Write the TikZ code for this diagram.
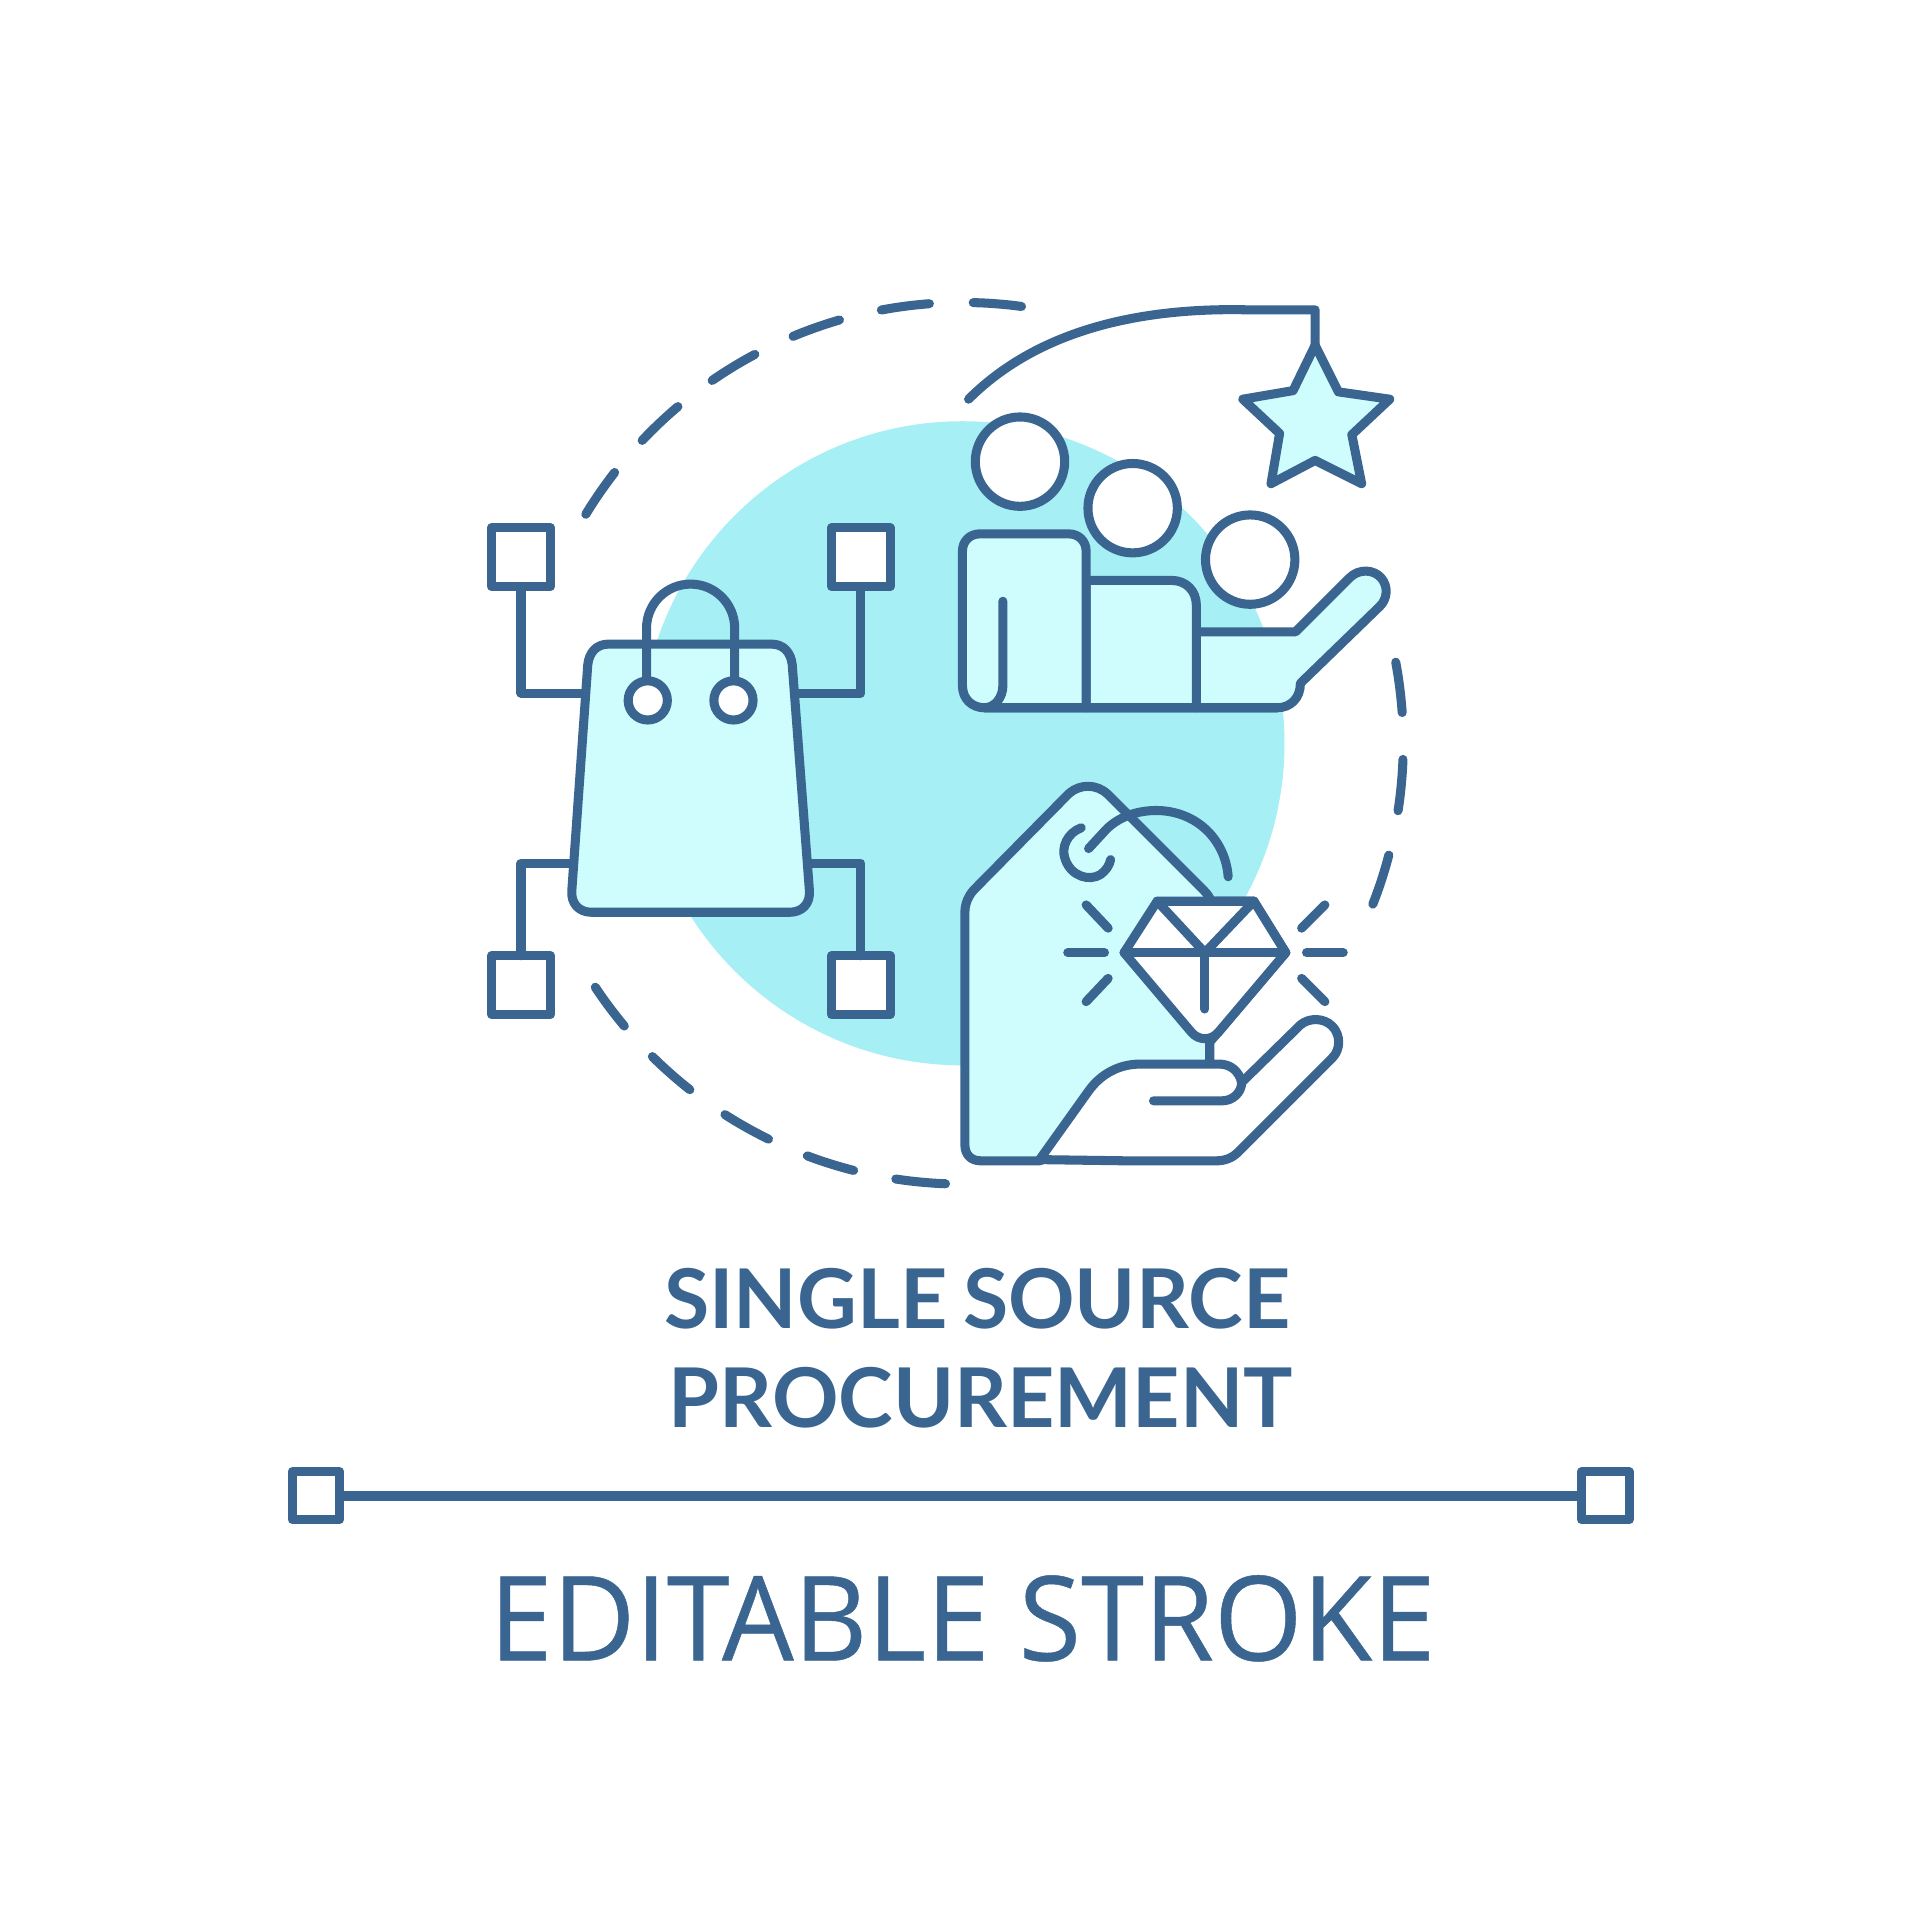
\documentclass[tikz,border=0pt]{standalone}
\usepackage{fontspec}
\setmainfont{Lato}
\newfontface\edfont{Open Sans}[FakeBold=0.4,FakeStretch=0.966]
\definecolor{ink}{HTML}{3A6591}
\definecolor{pale}{HTML}{CFFDFE}
\definecolor{disc}{HTML}{A5EFF5}
\tikzset{
  ln/.style={draw=ink,line width=0.74mm,line cap=round,line join=round},
  pal/.style={ln,fill=pale},
  wht/.style={ln,fill=white},
  sq/.style={draw=ink,line width=0.74mm,line join=round,fill=white,minimum size=4.8mm,inner sep=0pt,outer sep=0pt,shape=rectangle},
  ttl/.style={text=ink,font=\fontsize{6.73mm}{6.73mm}\selectfont\bfseries,inner sep=0pt},
}
\newcommand{\dashes}[1]{\foreach \a/\b in {#1}{\draw[ln] plot[domain=\a:\b,samples=9,smooth] ({786+360*cos(\x)},{607+360*sin(\x)});}}
\begin{document}
\begin{tikzpicture}[x=0.1mm,y=-0.1mm]
\useasboundingbox (0,0) rectangle (1568,1568);
\fill[white] (0,0) rectangle (1568,1568);
\fill[disc] (786,607) circle [radius=263];
% dashed ring
\dashes{-88.6/-82.3,-100.6/-94.3,-112.6/-106.2,-124.6/-118.1,-136.6/-130.2,-148.7/-142.1,146.4/140.1,134.7/128.2,122.6/116.1,110.6/104.3,98.7/92.2,-10.6/-4,2.1/8.8,14.7/21.4}
% bag squares
\node[sq] (sqTL) at (425.5,455) {};
\node[sq] (sqTR) at (703,455) {};
\node[sq] (sqBL) at (425.5,804.5) {};
\node[sq] (sqBR) at (703,804.5) {};
\coordinate (bagL1) at (476,566);
\coordinate (bagR1) at (650,566);
\coordinate (bagL2) at (468,705);
\coordinate (bagR2) at (660,705);
\draw[ln] (sqTL.south) |- (bagL1);
\draw[ln] (sqTR.south) |- (bagR1);
\draw[ln] (sqBL.north) |- (bagL2);
\draw[ln] (sqBR.north) |- (bagR2);
% bag
\draw[pal] (497,526) -- (630,526) .. controls (640,526) and (646,533) .. (647,543) -- (661,727) .. controls (662,738) and (655,745) .. (645,745) -- (483,745) .. controls (473,745) and (466,738) .. (467,727) -- (480,543) .. controls (481,533) and (487,526) .. (497,526) -- cycle;
\draw[ln] (528,553) -- (528,513) arc[start angle=180,end angle=360,radius=36] -- (600,553);
\draw[wht] (529,572) circle [radius=16];
\draw[wht] (599,572) circle [radius=16];
% people
\draw[pal] (977,516) -- (1058,516) -- (1102,472) .. controls (1110,464) and (1122,465) .. (1128,472) .. controls (1134,479) and (1133,489) .. (1127,495) -- (1062,558) .. controls (1062,570) and (1054,578) .. (1043,578) -- (977,578) -- cycle;
\draw[pal] (887,474) -- (957,474) .. controls (969,474) and (977,483) .. (977,494) -- (977,578) -- (887,578) -- cycle;
\draw[pal] (887,578) -- (887,450) .. controls (887,442) and (881,436) .. (873,436) -- (800,436) .. controls (792,436) and (786,442) .. (786,450) -- (786,560) .. controls (786,571) and (794,578) .. (804,578) -- cycle;
\draw[ln] (819,491) -- (819,560) .. controls (819,570) and (812,578) .. (804,578) -- (1043,578);
\draw[wht] (833,377) circle [radius=36.5];
\draw[wht] (925,415) circle [radius=36.5];
\draw[wht] (1021,457) circle [radius=36.5];
% star
\draw[pal] (1074,282) -- (1093,320) -- (1135,326) -- (1104,355) -- (1112,395) -- (1074,376) -- (1038,395) -- (1045,354) -- (1015,326) -- (1056,319) -- cycle;
\draw[ln] (1074,282) -- (1074,253) -- (1018,253) .. controls (925,251) and (845,272) .. (791,326);
% tag
\draw[pal] (849,948) -- (801,948) .. controls (793,948) and (788,943) .. (788,935) -- (788,745) .. controls (788,738) and (791,731) .. (796,726) -- (873,648) .. controls (882,640) and (896,640) .. (905,649) -- (983,727) .. controls (986,730) and (988,733) .. (989,736) -- (1024,736) -- (1050,778) -- (988,851) -- (988,869) -- (1014,885) -- (849,948) -- cycle;
\draw[ln] (883,676) .. controls (872,680) and (866,692) .. (870,702) .. controls (875,716) and (890,720) .. (899,714) .. controls (903,711) and (906,707) .. (907,702);
\draw[ln] (889,693) -- (901,680) .. controls (912,667) and (930,661) .. (948,662) .. controls (980,664) and (1001,688) .. (1003,716);
% diamond
\draw[wht] (945,736) -- (1024,736) -- (1050,778) -- (995,843) .. controls (989,850) and (979,850) .. (973,843) -- (918,778) -- cycle;
\draw[ln] (918,778) -- (1050,778);
\draw[ln] (945,736) -- (984,778) -- (1024,736);
\draw[ln] (984,778) -- (984,824);
\draw[ln] (988,851) -- (988,869);
% rays
\coordinate (r1a) at (887,739); \coordinate (r1b) at (905,758);
\coordinate (r2a) at (872,778); \coordinate (r2b) at (902,778);
\coordinate (r3a) at (887,818); \coordinate (r3b) at (905,799);
\coordinate (r4a) at (1082,739); \coordinate (r4b) at (1063,758);
\coordinate (r5a) at (1097,778); \coordinate (r5b) at (1067,778);
\coordinate (r6a) at (1082,818); \coordinate (r6b) at (1063,799);
\foreach \i in {1,...,6}{\draw[ln] (r\i a) -- (r\i b);}
% hand
\draw[wht] (849,947) -- (889,891) .. controls (899,877) and (914,869) .. (931,869) -- (996,869) .. controls (1005,869) and (1012,875) .. (1014,884) -- (1062,837) .. controls (1069,831) and (1081,831) .. (1088,838) .. controls (1095,845) and (1095,857) .. (1088,864) -- (1011,941) .. controls (1006,946) and (1000,948) .. (993,948) -- (920,948) -- cycle;
\draw[ln] (942,899) -- (998,899) .. controls (1007,899) and (1014,892) .. (1014,884);
% texts
\node[ttl,anchor=base] (t1) at (798,1085) {SINGLE\hspace{-0.35mm} SOURCE};
\node[ttl,anchor=base] (t2) at (801,1166) {PROCUREMENT};
\node[anchor=base,text=ink,inner sep=0pt,font=\edfont\fontsize{9.6mm}{9.6mm}\selectfont] (t3) at (786,1356) {EDITABLE STROKE};
% divider
\node[sq,minimum size=3.9mm] (dL) at (258,1221.5) {};
\node[sq,minimum size=3.9mm] (dR) at (1311,1221.5) {};
\draw[draw=ink,line width=0.85mm] (dL.east) -- (dR.west);
\end{tikzpicture}
\end{document}
